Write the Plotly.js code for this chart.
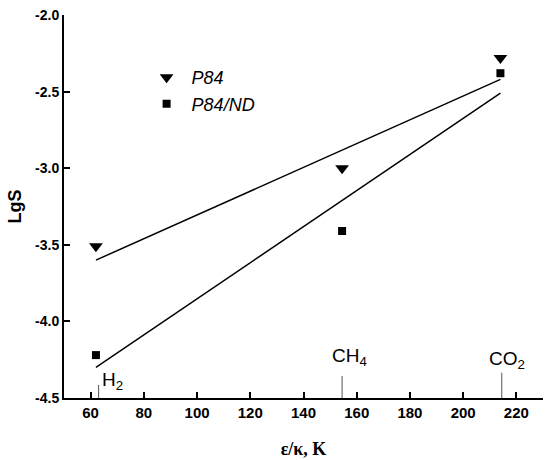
<!DOCTYPE html>
<html>
<head>
<meta charset="utf-8">
<script src="https://cdn.plot.ly/plotly-3.0.1.min.js"></script>
<style>
  html, body { margin: 0; padding: 0; background: #fff; }
  #chart { width: 550px; height: 460px; }
</style>
</head>
<body>
<div id="chart"></div>
<script>
  // gas molecules: epsilon/kappa (K)
  const epsK = [62, 154.5, 214];
  // measured lgS for the two membranes
  const lgsP84 = [-3.51, -3.0, -2.28];
  const lgsP84ND = [-4.22, -3.41, -2.38];

  // fitted straight lines (end points)
  const fitX = [62, 214];
  const fitP84 = [-3.60, -2.42];
  const fitP84ND = [-4.30, -2.51];

  // gas labels along the bottom
  const gasNames = ['H<sub>2</sub>', 'CH<sub>4</sub>', 'CO<sub>2</sub>'];
  const gasX = [63, 154.5, 214.5];
  const gasTop = [-4.415, -4.356, -4.335];

  // y ticks drawn with a plain hyphen like the original
  const yTickVals = [-4.5, -4.0, -3.5, -3.0, -2.5, -2.0];
  const yTickText = ['-4.5', '-4.0', '-3.5', '-3.0', '-2.5', '-2.0'];

  const fontAxis = 'Arial, Liberation Sans, sans-serif';

  const traces = [
    {
      // P84 points
      type: 'scatter',
      mode: 'markers',
      name: 'P84',
      x: epsK,
      y: lgsP84,
      marker: { symbol: 'triangle-down', size: 12, color: '#000' },
    },
    {
      // P84/ND points
      type: 'scatter',
      mode: 'markers',
      name: 'P84/ND',
      x: epsK,
      y: lgsP84ND,
      marker: { symbol: 'square', size: 8, color: '#000' },
    },
    {
      type: 'scatter',
      mode: 'lines',
      x: fitX,
      y: fitP84,
      showlegend: false,
      line: { color: '#000', width: 1.5 },
    },
    {
      type: 'scatter',
      mode: 'lines',
      x: fitX,
      y: fitP84ND,
      showlegend: false,
      line: { color: '#000', width: 1.5 },
    },
  ];

  const shapes = gasX.map((gx, i) => ({
    type: 'line',
    xref: 'x',
    yref: 'y',
    x0: gx,
    x1: gx,
    y0: -4.5,
    y1: gasTop[i],
    line: { color: '#555', width: 1 },
  }));

  // label offsets in px, relative to each marker line
  const labelShift = [[14, 4], [7, 19], [5, 13]];
  const annotations = gasNames.map((name, i) => ({
    x: gasX[i],
    y: gasTop[i],
    xref: 'x',
    yref: 'y',
    text: name,
    showarrow: false,
    xanchor: 'center',
    yanchor: 'middle',
    xshift: labelShift[i][0],
    yshift: labelShift[i][1],
    font: { family: fontAxis, size: 19, color: '#000' },
  }));

  const layout = {
    width: 550,
    height: 460,
    paper_bgcolor: '#fff',
    plot_bgcolor: '#fff',
    margin: { l: 64, r: 7, t: 15, b: 62 },
    showlegend: true,
    legend: {
      x: 0.162,
      y: 0.885,
      xanchor: 'left',
      yanchor: 'top',
      itemwidth: 40,
      tracegroupgap: 0,
      bgcolor: 'rgba(0,0,0,0)',
      font: { family: fontAxis, size: 18, color: '#000', style: 'italic' },
    },
    xaxis: {
      range: [50, 230],
      dtick: 20,
      tick0: 0,
      showgrid: false,
      zeroline: false,
      showline: true,
      linecolor: '#000',
      linewidth: 2,
      ticks: 'inside',
      ticklen: 6,
      tickwidth: 2,
      tickcolor: '#000',
      tickfont: { family: fontAxis, size: 15, color: '#000', weight: 'bold' },
      title: {
        text: 'ε/κ, K',
        standoff: 22,
        font: { family: 'Liberation Serif, Times New Roman, serif', size: 18, color: '#000', weight: 'bold' },
      },
    },
    yaxis: {
      range: [-4.5, -2.0],
      tickvals: yTickVals,
      ticktext: yTickText,
      showgrid: false,
      zeroline: false,
      showline: true,
      linecolor: '#000',
      linewidth: 2,
      ticks: 'inside',
      ticklen: 6,
      tickwidth: 2,
      tickcolor: '#000',
      tickfont: { family: fontAxis, size: 14, color: '#000', weight: 'bold' },
      title: {
        text: 'LgS',
        standoff: 9,
        font: { family: fontAxis, size: 18, color: '#000', weight: 'bold' },
      },
    },
    shapes,
    annotations,
  };

  Plotly.newPlot('chart', traces, layout, { displayModeBar: false, staticPlot: true });
</script>
</body>
</html>
